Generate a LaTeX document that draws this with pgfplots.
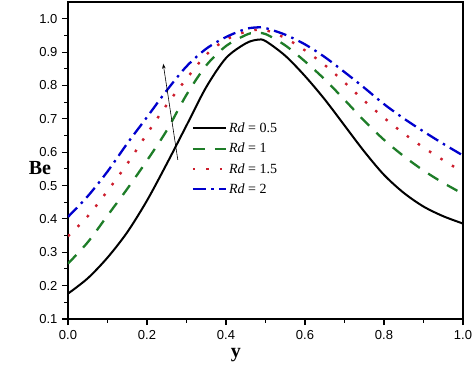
\documentclass[border=0pt]{standalone}
\usepackage{fontspec}
\setmainfont{Liberation Serif}
\newfontfamily\arial{Liberation Sans}
\usepackage{pgfplots}
\pgfplotsset{compat=1.18}
\usetikzlibrary{arrows.meta}
\definecolor{cgreen}{RGB}{30,125,40}
\definecolor{cred}{RGB}{205,30,45}
\definecolor{cblue}{RGB}{0,0,205}
\begin{document}
\begin{tikzpicture}
\useasboundingbox (-68pt,-56pt) rectangle (406pt,319pt);
\begin{axis}[
  scale only axis, width=395pt, height=317pt,
  xmin=0, xmax=1, ymin=0.1, ymax=1.05,
  xtick={0,0.2,...,1.0}, ytick={0.1,0.2,...,1.0},
  minor x tick num=1, minor y tick num=1,
  tick align=outside, xtick pos=left, ytick pos=left,
  major tick length=6pt, minor tick length=3.5pt,
  axis line style={line width=1.4pt},
  every tick/.style={line width=1.1pt, black},
  /pgf/number format/assume math mode=true,
  /pgf/number format/.cd, fixed, fixed zerofill, precision=1, /pgfplots/.cd,
  tick label style={font=\arial\fontsize{13}{13}\selectfont},
  xticklabel style={yshift=-2pt},
  yticklabel style={xshift=-1pt},
  xlabel={\textbf{y}}, xlabel style={font=\fontsize{20}{20}\selectfont, at={(axis description cs:0.425,-0.115)}, anchor=center},
  ylabel={\textbf{Be}}, ylabel style={font=\fontsize{20}{20}\selectfont, rotate=-90, at={(axis description cs:-0.071,0.476)}, anchor=center},
  legend style={draw=none, fill=none, at={(axis description cs:0.305,0.632)}, anchor=north west,
    font=\fontsize{14}{14}\selectfont, row sep=5pt},
  legend cell align=left,
  legend image code/.code={\draw[#1] (0pt,0pt) -- (33pt,0pt);},
]
\addplot[black, line width=2pt, smooth] coordinates {
(0,0.176)(0.05,0.222)(0.1,0.284)(0.15,0.36)(0.2,0.455)(0.25,0.565)(0.3,0.68)(0.35,0.795)(0.4,0.882)(0.45,0.926)(0.48,0.937)(0.5,0.933)(0.55,0.889)(0.6,0.828)(0.65,0.758)(0.7,0.68)(0.75,0.602)(0.8,0.532)(0.85,0.478)(0.9,0.437)(0.95,0.408)(1.0,0.386)};
\addlegendentry{\textit{Rd} = 0.5}
\addplot[cgreen, line width=2.3pt, smooth, dash pattern=on 12pt off 10pt] coordinates {
(0,0.266)(0.05,0.33)(0.1,0.41)(0.15,0.49)(0.2,0.575)(0.25,0.665)(0.3,0.772)(0.35,0.86)(0.4,0.918)(0.45,0.951)(0.47,0.957)(0.5,0.954)(0.55,0.92)(0.6,0.872)(0.65,0.818)(0.7,0.757)(0.75,0.694)(0.8,0.637)(0.85,0.588)(0.9,0.545)(0.95,0.508)(1.0,0.475)};
\addlegendentry{\textit{Rd} = 1}
\addplot[cred, line width=2.4pt, smooth, dash pattern=on 2.5pt off 11pt] coordinates {
(0,0.348)(0.05,0.408)(0.1,0.484)(0.15,0.565)(0.2,0.655)(0.25,0.742)(0.3,0.82)(0.35,0.892)(0.4,0.937)(0.45,0.961)(0.48,0.967)(0.5,0.966)(0.55,0.942)(0.6,0.905)(0.65,0.861)(0.7,0.809)(0.75,0.754)(0.8,0.703)(0.85,0.656)(0.9,0.614)(0.95,0.576)(1.0,0.54)};
\addlegendentry{\textit{Rd} = 1.5}
\addplot[cblue, line width=2.3pt, smooth, dash pattern=on 13pt off 5.5pt on 2.5pt off 5.5pt] coordinates {
(0,0.406)(0.05,0.468)(0.1,0.542)(0.15,0.626)(0.2,0.705)(0.25,0.785)(0.3,0.857)(0.35,0.91)(0.4,0.945)(0.45,0.969)(0.48,0.974)(0.5,0.972)(0.55,0.952)(0.6,0.923)(0.65,0.885)(0.7,0.84)(0.75,0.793)(0.8,0.744)(0.85,0.701)(0.9,0.662)(0.95,0.625)(1.0,0.59)};
\addlegendentry{\textit{Rd} = 2}
\draw[-{Stealth[length=5pt,width=3.5pt]}, line width=0.6pt] (axis cs:0.278,0.577) -- (axis cs:0.241,0.865);
\end{axis}
\end{tikzpicture}
\end{document}
